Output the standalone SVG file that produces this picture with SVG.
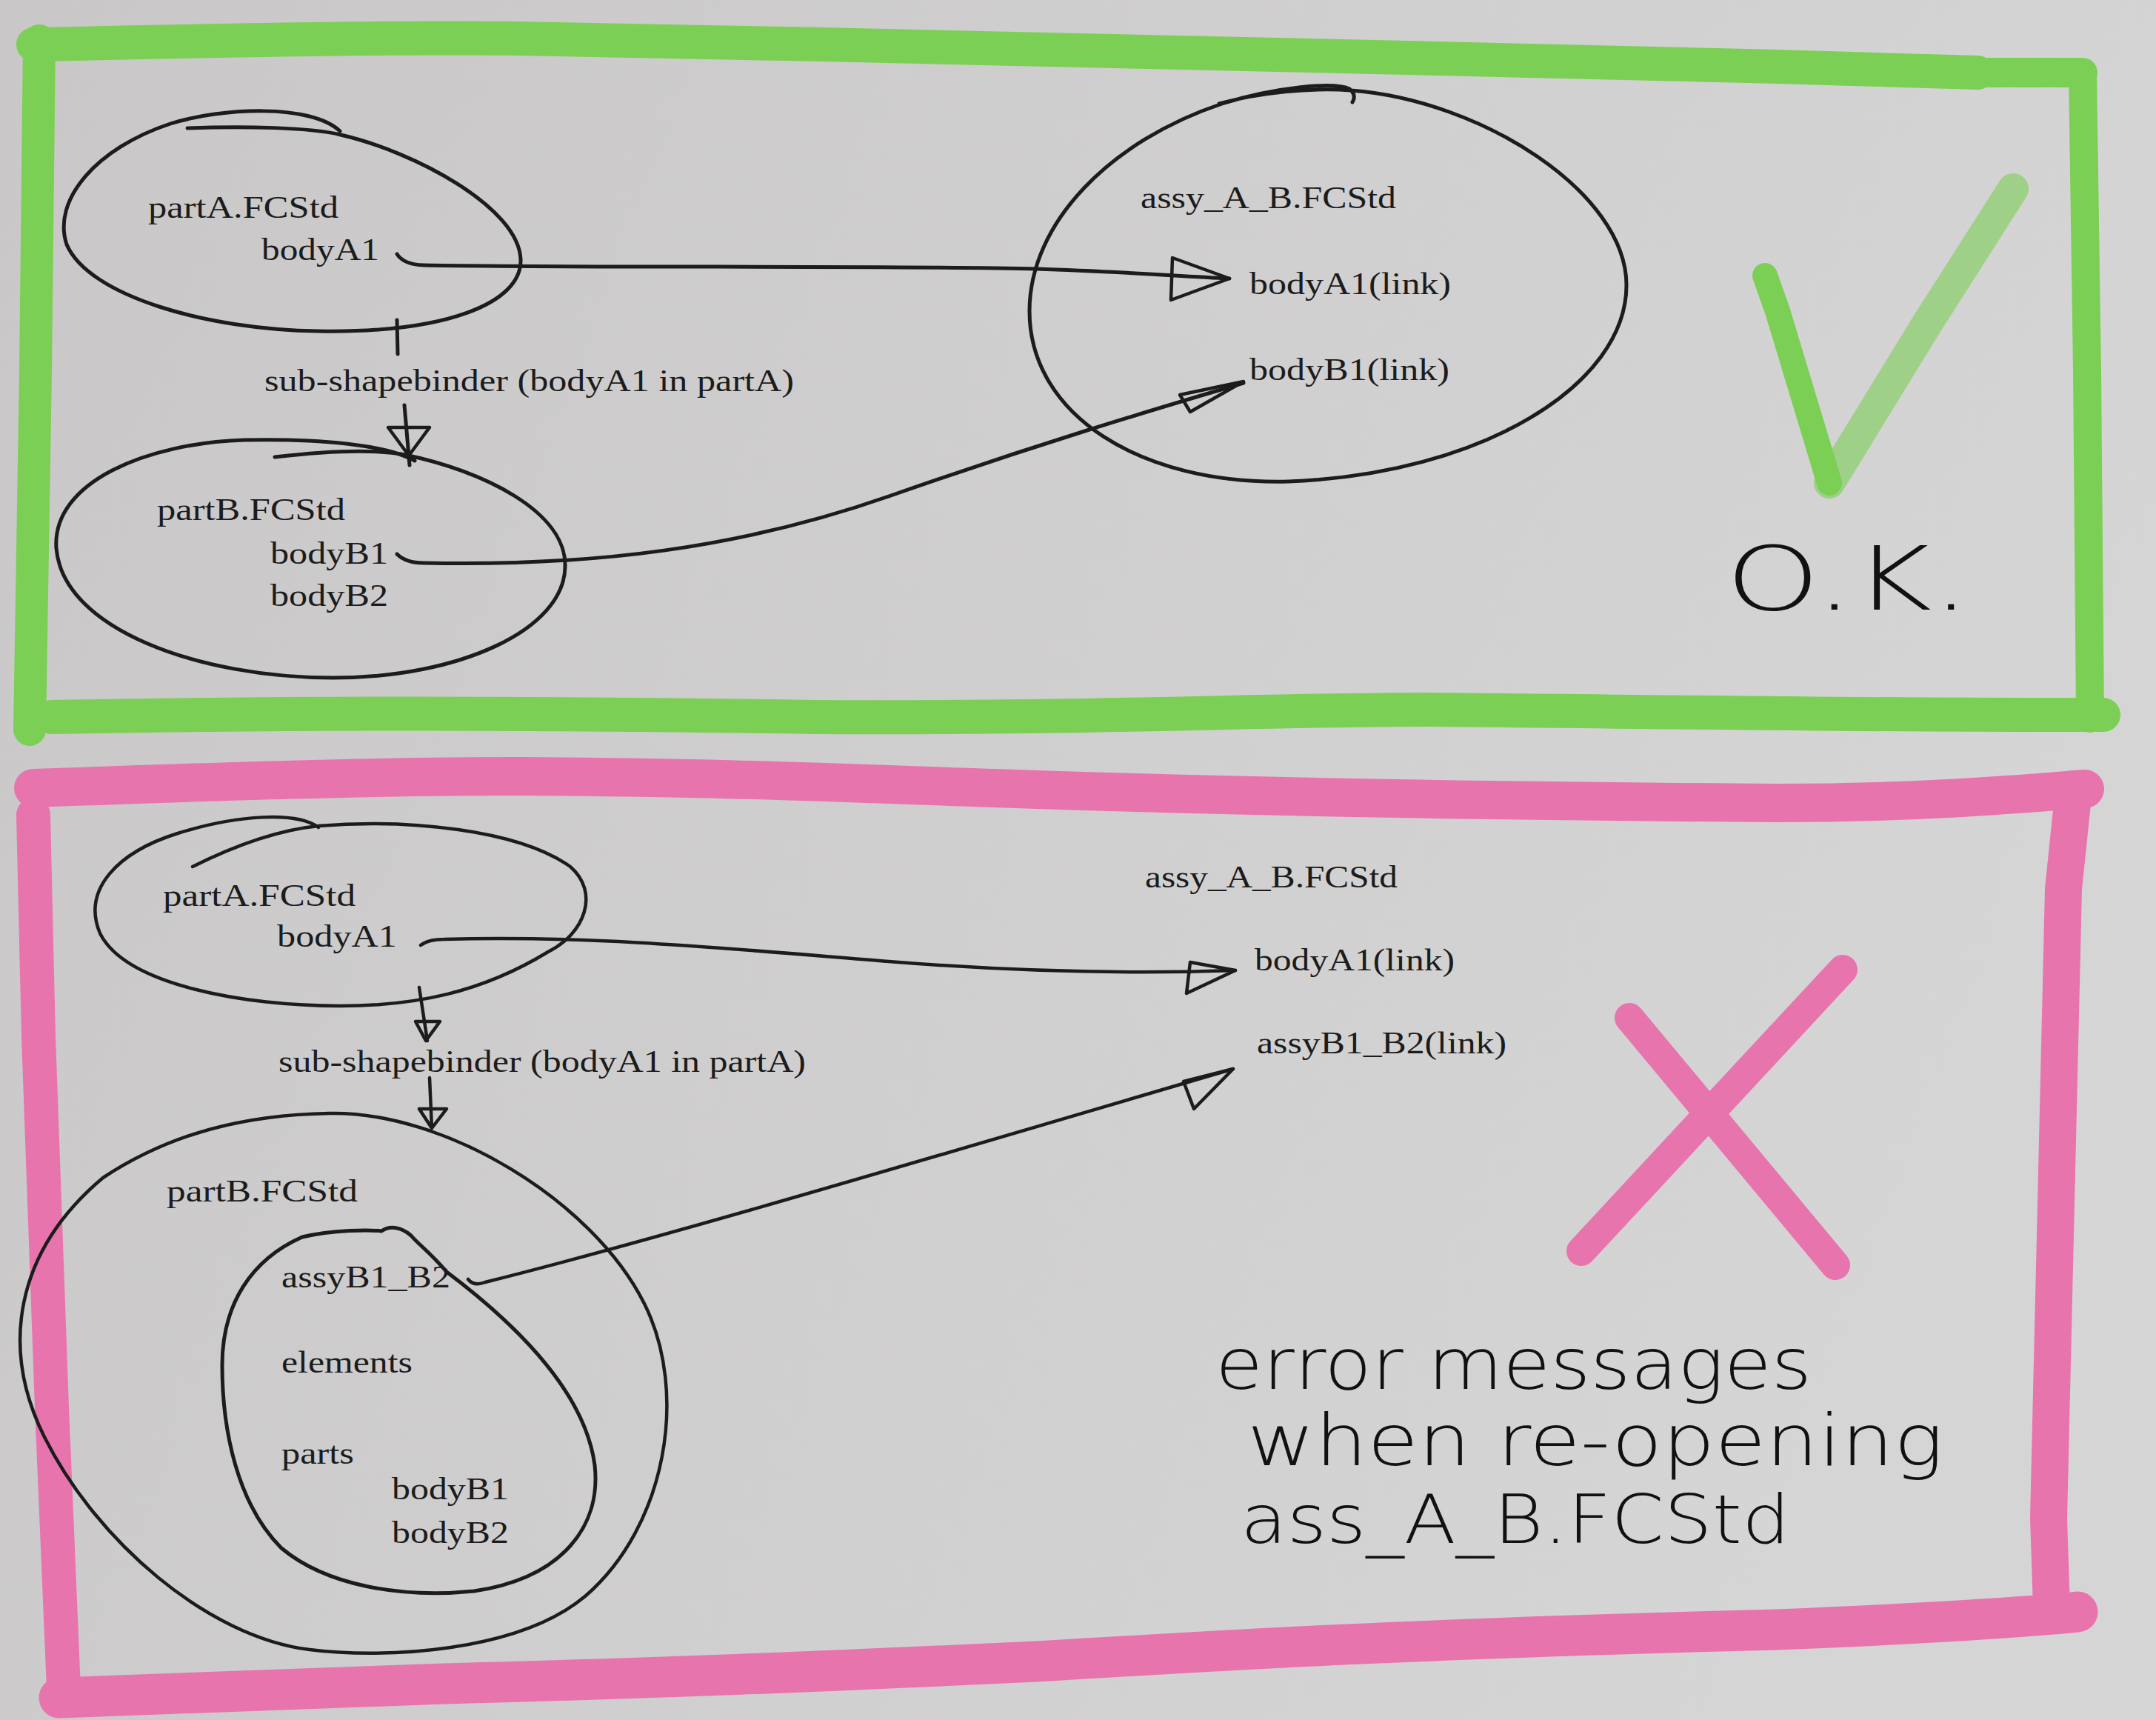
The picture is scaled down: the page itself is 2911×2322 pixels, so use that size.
<svg xmlns="http://www.w3.org/2000/svg" width="2911" height="2322" viewBox="0 0 2911 2322">
<defs>
<linearGradient id="paper" x1="0" y1="0" x2="1" y2="0.3">
<stop offset="0" stop-color="#c9c7c8"/>
<stop offset="1" stop-color="#d6d5d5"/>
</linearGradient>
<style>
.pen{fill:none;stroke:#1c1c1c;stroke-width:5;stroke-linecap:round;stroke-linejoin:round}
.pen2{fill:none;stroke:#1c1c1c;stroke-width:4.5;stroke-linecap:round;stroke-linejoin:round}
.head{fill:none;stroke:#1c1c1c;stroke-width:4.5;stroke-linejoin:round}
.green{fill:none;stroke:#7ccf55;stroke-linecap:round;stroke-linejoin:round}
.pink{fill:none;stroke:#e874ad;stroke-linecap:round;stroke-linejoin:round}
.t{font-family:"Liberation Serif","Times New Roman",serif;font-size:43px;fill:#1c1c1c}
.h{font-family:"DejaVu Sans","Liberation Sans",sans-serif;font-weight:200;fill:#111}
</style>
</defs>
<rect x="0" y="0" width="2911" height="2322" fill="url(#paper)"/>

<!-- green frame -->
<g id="frame-ok">
<path class="green" stroke-width="46" d="M 45 60 C 300 55 500 50 700 52 C 1100 58 1455 70 1900 78 L 2400 90 L 2670 98"/>
<path class="green" stroke-width="40" d="M 2660 98 L 2812 98"/>
<path class="green" stroke-width="38" d="M 2812 98 L 2818 500 L 2822 970"/>
<path class="green" stroke-width="46" d="M 70 968 C 400 962 700 962 1100 968 C 1500 970 1700 958 1929 958 C 2200 960 2500 966 2840 965"/>
<path class="green" stroke-width="44" d="M 53 55 L 48 500 L 40 985"/>
</g>

<!-- pink frame -->
<g id="frame-error">
<path class="pink" stroke-width="52" d="M 45 1064 C 300 1055 500 1048 700 1048 C 1000 1050 1100 1056 1400 1066 C 1763 1078 2100 1082 2400 1084 C 2600 1084 2750 1070 2815 1065"/>
<path class="pink" stroke-width="46" d="M 45 1100 L 52 1400 L 70 1900 L 86 2280"/>
<path class="pink" stroke-width="55" d="M 80 2292 C 300 2285 500 2276 600 2273 C 900 2265 1100 2257 1400 2243 C 1700 2225 1900 2213 2400 2200 C 2600 2192 2750 2182 2805 2176"/>
<path class="pink" stroke-width="50" d="M 2800 1065 L 2786 1200 L 2766 2050 L 2770 2170"/>
</g>

<!-- top section nodes -->
<g id="ok-partA">
<path class="pen" d="M 253 173 C 330 170 420 172 460 182 C 560 205 700 280 703 350 C 705 410 600 450 430 447 C 280 445 120 400 90 330 C 70 270 130 200 230 167 C 300 145 420 140 459 177"/>
<text class="t" x="200" y="294" textLength="257" lengthAdjust="spacingAndGlyphs">partA.FCStd</text>
<text class="t" x="353" y="351" textLength="159" lengthAdjust="spacingAndGlyphs">bodyA1</text>
</g>
<g id="ok-binder">
<text class="t" x="357" y="528" textLength="715" lengthAdjust="spacingAndGlyphs">sub-shapebinder (bodyA1 in partA)</text>
</g>
<g id="ok-partB">
<path class="pen" d="M 371 617 C 430 610 500 605 547 614 C 650 635 765 690 763 765 C 762 850 620 915 450 915 C 270 915 85 850 76 740 C 70 650 200 598 330 594 C 430 592 520 600 560 622"/>
<text class="t" x="212" y="702" textLength="254" lengthAdjust="spacingAndGlyphs">partB.FCStd</text>
<text class="t" x="365" y="761" textLength="159" lengthAdjust="spacingAndGlyphs">bodyB1</text>
<text class="t" x="365" y="818" textLength="159" lengthAdjust="spacingAndGlyphs">bodyB2</text>
</g>
<g id="ok-assy">
<path class="pen" d="M 1646 140 C 1700 125 1770 118 1824 122 C 2000 135 2196 260 2196 385 C 2196 520 2000 640 1740 650 C 1540 655 1390 560 1390 420 C 1390 300 1500 190 1650 140 C 1720 118 1800 110 1822 120 Q 1832 128 1826 138"/>
<text class="t" x="1540" y="281" textLength="345" lengthAdjust="spacingAndGlyphs">assy_A_B.FCStd</text>
<text class="t" x="1687" y="397" textLength="272" lengthAdjust="spacingAndGlyphs">bodyA1(link)</text>
<text class="t" x="1687" y="513" textLength="270" lengthAdjust="spacingAndGlyphs">bodyB1(link)</text>
</g>
<g id="ok-mark">
<path class="green" stroke-width="34" d="M 2383 372 L 2400 420 L 2470 652"/>
<path class="green" stroke-width="42" stroke-opacity="0.6" d="M 2470 652 L 2600 440 L 2718 255"/>
<text class="h" x="2330" y="823" font-size="120" textLength="330" lengthAdjust="spacingAndGlyphs">O.K.</text>
</g>

<!-- bottom section nodes -->
<g id="err-partA">
<path class="pen2" d="M 260 1170 C 320 1140 380 1120 430 1115 C 550 1105 700 1120 770 1170 C 810 1205 790 1260 740 1285 C 650 1340 560 1358 460 1358 C 330 1358 170 1330 135 1260 C 110 1200 160 1150 240 1125 C 320 1100 400 1095 430 1117"/>
<text class="t" x="220" y="1223" textLength="260" lengthAdjust="spacingAndGlyphs">partA.FCStd</text>
<text class="t" x="374" y="1278" textLength="162" lengthAdjust="spacingAndGlyphs">bodyA1</text>
</g>
<g id="err-binder">
<text class="t" x="376" y="1447" textLength="712" lengthAdjust="spacingAndGlyphs">sub-shapebinder (bodyA1 in partA)</text>
</g>
<g id="err-partB">
<path class="pen2" d="M 445 1503 C 600 1500 800 1620 870 1760 C 930 1880 900 2060 790 2155 C 700 2230 520 2240 418 2227 C 280 2210 130 2080 60 1940 C 0 1820 20 1690 139 1590 C 230 1530 330 1505 445 1503 Z"/>
<text class="t" x="225" y="1622" textLength="258" lengthAdjust="spacingAndGlyphs">partB.FCStd</text>
</g>
<g id="err-assyB1B2">
<path class="pen" d="M 408 1670 C 450 1660 500 1660 515 1662 C 525 1655 540 1655 555 1668 C 565 1680 580 1690 603 1717 C 700 1790 790 1880 803 1978 C 812 2060 760 2130 640 2148 C 540 2158 440 2140 380 2090 C 320 2030 300 1930 300 1843 C 300 1760 340 1700 408 1670 Z"/>
<text class="t" x="380" y="1738" textLength="228" lengthAdjust="spacingAndGlyphs">assyB1_B2</text>
<text class="t" x="380" y="1853" textLength="177" lengthAdjust="spacingAndGlyphs">elements</text>
<text class="t" x="380" y="1976" textLength="98" lengthAdjust="spacingAndGlyphs">parts</text>
<text class="t" x="529" y="2024" textLength="158" lengthAdjust="spacingAndGlyphs">bodyB1</text>
<text class="t" x="529" y="2083" textLength="158" lengthAdjust="spacingAndGlyphs">bodyB2</text>
</g>
<g id="err-assy">
<text class="t" x="1546" y="1198" textLength="341" lengthAdjust="spacingAndGlyphs">assy_A_B.FCStd</text>
<text class="t" x="1694" y="1310" textLength="270" lengthAdjust="spacingAndGlyphs">bodyA1(link)</text>
<text class="t" x="1697" y="1422" textLength="337" lengthAdjust="spacingAndGlyphs">assyB1_B2(link)</text>
</g>
<g id="err-mark">
<path class="pink" stroke-width="40" stroke-linecap="butt" d="M 2200 1374 L 2478 1708"/>
<path class="pink" stroke-width="40" stroke-linecap="butt" d="M 2488 1309 L 2135 1689"/>
<text class="h" x="1641" y="1875" font-size="96" textLength="805" lengthAdjust="spacingAndGlyphs">error messages</text>
<text class="h" x="1684" y="1978" font-size="96" textLength="940" lengthAdjust="spacingAndGlyphs">when re-opening</text>
<text class="h" x="1675" y="2083" font-size="90" textLength="742" lengthAdjust="spacingAndGlyphs">ass_A_B.FCStd</text>
</g>

<!-- connectors -->
<g id="connectors">
<path class="pen" d="M 536 432 L 537 478"/>
<path class="pen" d="M 546 547 L 553 628"/>
<polygon class="head" points="524,577 580,577 552,615"/>
<path class="pen" d="M 536 343 Q 545 357 572 358 C 800 362 1200 358 1400 363 C 1500 366 1580 372 1660 376"/>
<polygon class="head" points="1583,348 1660,376 1581,405"/>
<path class="pen" d="M 536 748 Q 548 760 572 760 C 800 765 1000 740 1200 670 C 1400 600 1550 555 1679 517"/>
<polygon class="head" points="1679,515 1593,533 1607,556"/>
<path class="pen2" d="M 566 1333 L 577 1405"/>
<polygon class="head" points="561,1379 594,1379 575,1405"/>
<path class="pen2" d="M 580 1455 L 583 1523"/>
<polygon class="head" points="566,1497 603,1497 583,1523"/>
<path class="pen2" d="M 568 1276 Q 578 1268 600 1268 C 800 1262 1000 1282 1200 1298 C 1350 1310 1500 1316 1668 1310"/>
<polygon class="head" points="1607,1299 1668,1310 1602,1341"/>
<path class="pen2" d="M 632 1727 Q 640 1737 655 1731 C 900 1670 1300 1550 1665 1443"/>
<polygon class="head" points="1665,1443 1598,1460 1612,1497"/>
</g>
</svg>
